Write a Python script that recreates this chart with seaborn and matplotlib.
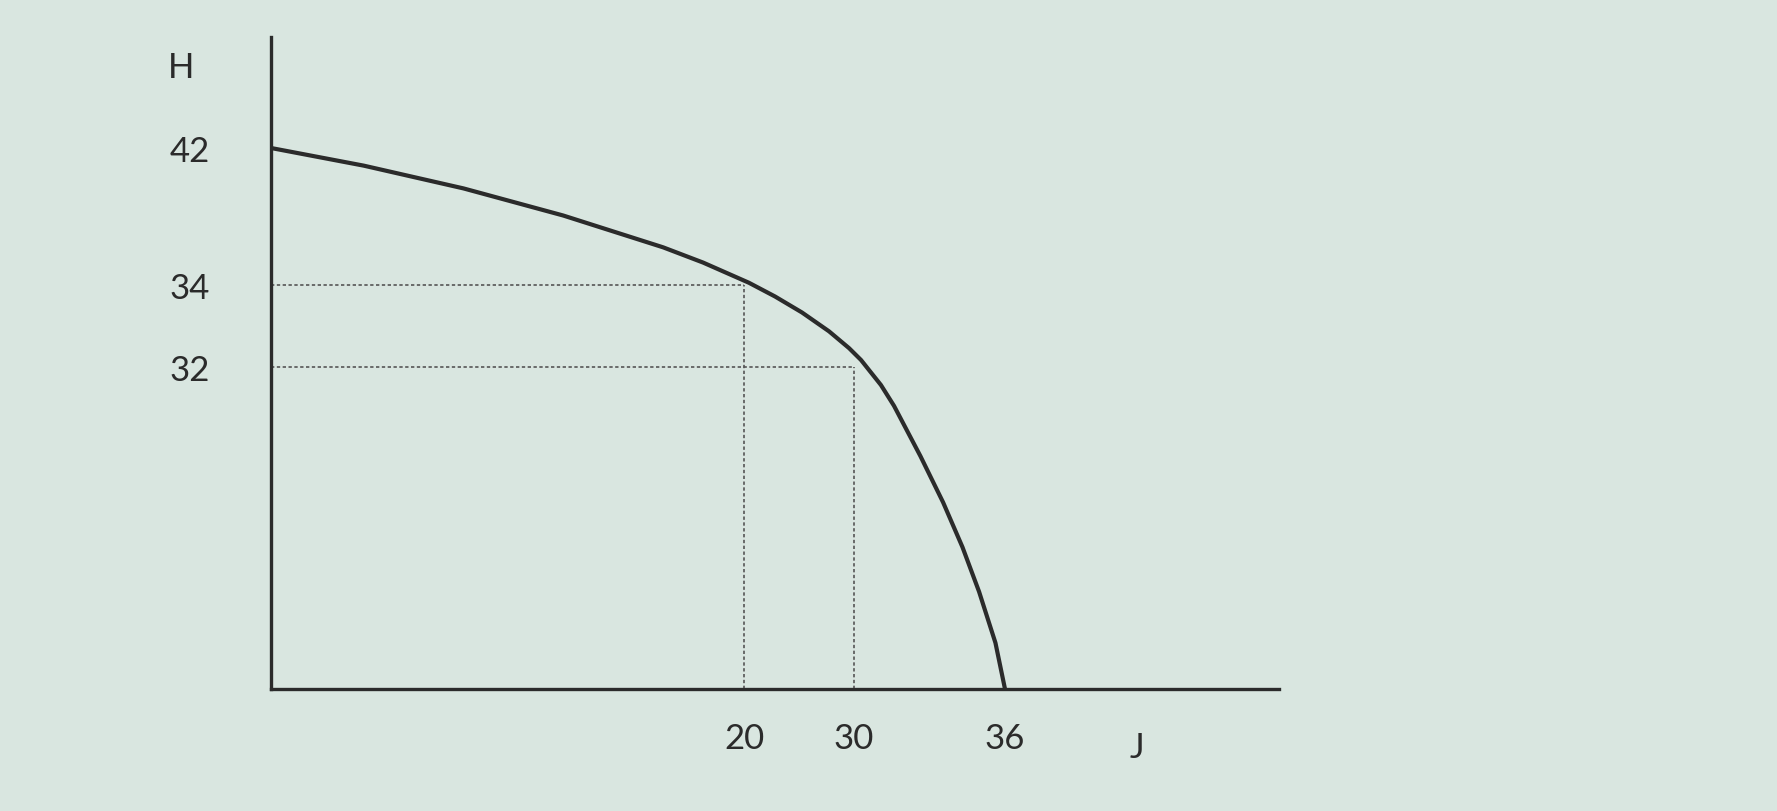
import numpy as np
import pandas as pd
import matplotlib
matplotlib.use("Agg")
import matplotlib.pyplot as plt
import seaborn as sns

# production possibilities frontier
j_values = [0, 3.92, 8.14, 12.35, 16.58, 18.27, 20.45, 22.82, 25.27, 27.73, 29.55,
            30.28, 31.07, 31.59, 32.64, 33.54, 34.31, 34.97, 35.62, 36]
h_values = [42, 40.97, 39.64, 38.06, 36.2, 35.31, 34.13, 33.72, 33.33, 32.87, 32.46,
            32.17, 30.21, 28.14, 23.14, 18.55, 14.10, 9.67, 4.59, 0]

# marked points (J, H)
marked_j = [20, 30]
marked_h = [34, 32]

x_ticks = [20, 30, 36]
y_ticks = [42, 34, 32]
x_label = "J"
y_label = "H"

# the drawing is schematic: axis positions are not proportional to values,
# so map values to positions piecewise (positions in pixels from the origin)
x_knots = [0, 20, 30, 36, 47]
x_pos = [0, 473, 583, 734, 1008]
y_knots = [0, 32, 34, 42, 48.5]
y_pos = [0, 322, 404, 541, 652]

bg = "#d9e6e0"
ink = "#2b2b2b"

sns.set_style("white")
plt.rcParams["font.family"] = ["Lato", "DejaVu Sans"]

fig = plt.figure(figsize=(17.77, 8.12), dpi=100, facecolor=bg)
ax = fig.add_axes([271 / 1777, 122 / 812, 1008 / 1777, 652 / 812])
ax.set_facecolor(bg)

ax.set_xscale("function", functions=(lambda v: np.interp(v, x_knots, x_pos),
                                     lambda v: np.interp(v, x_pos, x_knots)))
ax.set_yscale("function", functions=(lambda v: np.interp(v, y_knots, y_pos),
                                     lambda v: np.interp(v, y_pos, y_knots)))
ax.set_xlim(0, x_knots[-1])
ax.set_ylim(0, y_knots[-1])

# dotted guide lines
for mj, mh in zip(marked_j, marked_h):
    ax.plot([0, mj], [mh, mh], color="#555555", lw=1.2, ls=(0, (2, 1.5)), zorder=2)
    ax.plot([mj, mj], [0, mh], color="#555555", lw=1.2, ls=(0, (2, 1.5)), zorder=2)

df = pd.DataFrame({"J": j_values, "H": h_values})
sns.lineplot(data=df, x="J", y="H", sort=False, color=ink, lw=3, ax=ax, zorder=3)
ax.lines[-1].set_solid_joinstyle("round")

for side in ["top", "right"]:
    ax.spines[side].set_visible(False)
for side in ["left", "bottom"]:
    ax.spines[side].set_linewidth(2.4)
    ax.spines[side].set_color(ink)

ax.set_xticks(x_ticks)
ax.set_yticks(y_ticks)
ax.set_xticklabels([str(t) for t in x_ticks])
ax.set_yticklabels([str(t) for t in y_ticks])
ax.xaxis.set_minor_locator(matplotlib.ticker.NullLocator())
ax.yaxis.set_minor_locator(matplotlib.ticker.NullLocator())
ax.tick_params(axis="x", length=0, pad=24, labelsize=25, labelcolor=ink)
ax.tick_params(axis="y", length=0, pad=44, labelsize=25, labelcolor=ink)
ax.set_xlabel("")
ax.set_ylabel("")

ax.text(0.859, -0.089, x_label, transform=ax.transAxes, ha="center", va="center",
        fontsize=25, color=ink)
ax.text(-0.089, 0.954, y_label, transform=ax.transAxes, ha="center", va="center",
        fontsize=25, color=ink)

fig.savefig("out.png", dpi=100, facecolor=bg)
